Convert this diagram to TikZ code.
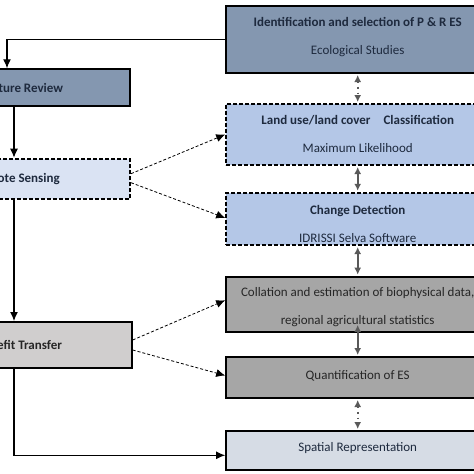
\documentclass[tikz,border=0pt]{standalone}
\usepackage{fontspec}
\setmainfont{Carlito}
\usetikzlibrary{arrows.meta}
\definecolor{cSteel}{HTML}{8497B0}
\definecolor{cLBlue}{HTML}{B4C7E7}
\definecolor{cPale}{HTML}{DAE3F3}
\definecolor{cGrey}{HTML}{A6A6A6}
\definecolor{cLGrey}{HTML}{D0CECE}
\definecolor{cSpat}{HTML}{D6DCE5}
\definecolor{cNavy}{HTML}{1E2A3E}
\definecolor{cDark}{HTML}{262626}
\definecolor{cArr}{HTML}{595959}
\tikzset{
  box/.style={draw=black, line width=2pt, rectangle, inner sep=0pt},
  dbox/.style={box, dash pattern=on 4pt off 2pt},
  txt/.style={font=\fontsize{13}{28}\selectfont, align=center, inner sep=0pt},
  ltxt/.style={font=\fontsize{13}{15}\selectfont\bfseries},
  arr/.style={line width=1.2pt, -{Latex[length=9pt,width=8pt]}},
  darr/.style={line width=0.8pt, dash pattern=on 3pt off 2pt, -{Latex[length=9pt,width=8pt]}},
  garr/.style={draw=cArr, line width=1.6pt, {Latex[length=7pt,width=7pt]}-{Latex[length=7pt,width=7pt]}},
  gdot/.style={garr, dash pattern=on 1.6pt off 4pt},
}
\begin{document}
\begin{tikzpicture}[x=1pt,y=-1pt]
\useasboundingbox (0,0) rectangle (474,474);
\fill[white] (0,0) rectangle (474,474);
\clip (0,0) rectangle (474,474);
% right column boxes
\node[box, fill=cSteel, minimum width=263pt, minimum height=67.5pt] (r1) at (357.7,39.25) {};
\node[dbox, fill=cLBlue, minimum width=263pt, minimum height=61pt] (r2) at (357.7,134.5) {};
\node[dbox, fill=cLBlue, minimum width=263pt, minimum height=52.3pt] (r3) at (357.7,218.9) {};
\node[box, fill=cGrey, minimum width=263pt, minimum height=55.3pt] (r4) at (357.7,304.3) {};
\node[box, fill=cGrey, minimum width=263pt, minimum height=41pt] (r5) at (357.7,377.5) {};
\node[box, fill=cSpat, minimum width=263pt, minimum height=39pt] (r6) at (357.7,450.5) {};
% right column texts
\node[txt, text=cNavy] (r1t) at (357.7,37) {\textbf{Identification and selection of P \& R ES}\\Ecological Studies};
\node[txt, text=cNavy] (r2t) at (357.7,133.5) {\textbf{Land use/land cover\quad Classification}\\Maximum Likelihood};
\node[txt, text=cNavy] (r3t) at (357.7,224) {\textbf{Change Detection}\\IDRISSI Selva Software};
\node[txt, text=cDark] (r4t) at (357.7,307) {Collation and estimation of biophysical data,\\regional agricultural statistics};
\node[txt, text=cDark] (r5t) at (357.7,376) {Quantification of ES};
\node[txt, text=cNavy] (r6t) at (357.7,448) {Spatial Representation};
% left column boxes
\node[box, fill=cSteel, minimum width=228.6pt, minimum height=36.5pt, text=cNavy, ltxt] (lit) at (15.7,87.5) {Literature Review};
\node[dbox, fill=cPale, minimum width=226.8pt, minimum height=40pt, text=cNavy, ltxt] (rs) at (16.6,178.7) {Remote Sensing};
\node[box, fill=cLGrey, minimum width=225pt, minimum height=46pt, text=cDark, ltxt] (bt) at (19.2,345) {Benefit Transfer};
% helper coordinates
\coordinate (xl) at (7,0);
\coordinate (xm) at (14,0);
\coordinate (yb) at (0,455.3);
% black connectors
\draw[arr] (r1.west) -| (lit.north -| xl);
\draw[arr] (lit.south -| xm) -- (rs.north -| xm);
\draw[arr] (rs.south -| xm) -- (bt.north -| xm);
\draw[arr] (bt.south -| xm) |- (r6.west |- yb);
% dashed connectors
\draw[darr] ([yshift=5pt]rs.east) -- (r2.west);
\draw[darr] ([yshift=-4pt]rs.east) -- ([yshift=1pt]r3.west);
\draw[darr] ([yshift=5pt]bt.east) -- ([yshift=4pt]r4.west);
\draw[darr] ([yshift=-5pt]bt.east) -- ([yshift=2pt]r5.west);
% grey double arrows
\draw[gdot] ([yshift=-1pt]r1.south) -- ([yshift=1pt]r2.north);
\draw[garr] ([yshift=-1pt]r2.south) -- ([yshift=1pt]r3.north);
\draw[garr] ([yshift=-1pt]r3.south) -- ([yshift=1pt]r4.north);
\draw[garr] ([yshift=8pt]r4.south) -- ([yshift=1pt]r5.north);
\draw[gdot] ([yshift=-1pt]r5.south) -- ([yshift=1pt]r6.north);
\end{tikzpicture}
\end{document}
